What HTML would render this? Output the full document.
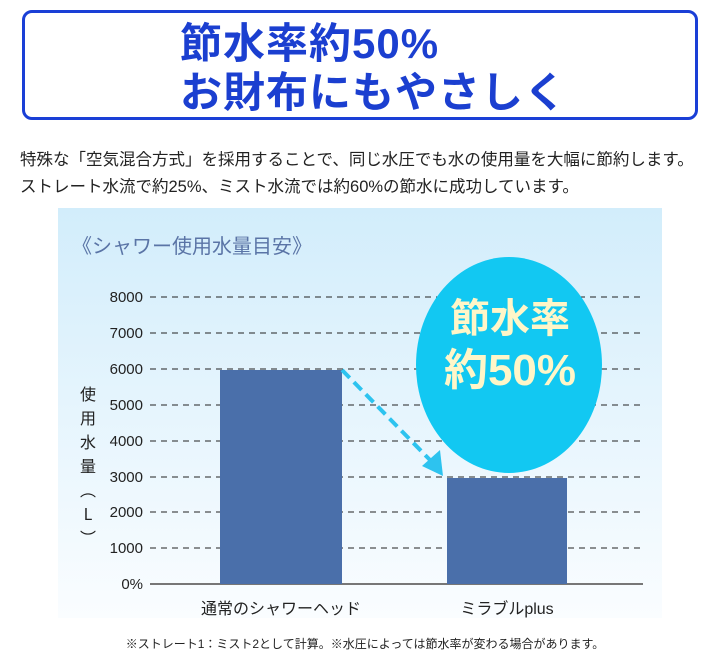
<!DOCTYPE html>
<html><head><meta charset="utf-8"><style>
body{margin:0;width:720px;height:666px;background:#fff;position:relative;overflow:hidden;font-family:"Liberation Sans","Noto Sans CJK JP",sans-serif}
.box{position:absolute;left:22px;top:10px;width:670px;height:104px;border:3px solid #1a3fd6;border-radius:10px}
.h{position:absolute;left:180px;font-size:42px;font-weight:bold;color:#1b3fd0;letter-spacing:1px;line-height:1}
.p{position:absolute;left:20px;font-size:16.5px;color:#222;white-space:nowrap}
.panel{position:absolute;left:58px;top:208px;width:604px;height:410px;background:linear-gradient(#d2edfb,#eef8fe 70%,#fafdff)}
</style></head><body>
<div class="box"></div>
<div class="h" style="top:23px">節水率約50%</div>
<div class="h" style="top:72px">お財布にもやさしく</div>
<div class="p" style="top:146px">特殊な「空気混合方式」を採用することで、同じ水圧でも水の使用量を大幅に節約します。</div>
<div class="p" style="top:173px">ストレート水流で約25%、ミスト水流では約60%の節水に成功しています。</div>
<div class="panel"></div>
<svg style="position:absolute;left:0;top:0" width="720" height="666">
<text x="72" y="253" font-size="20" fill="#5a74a6" font-family="Liberation Sans,Noto Sans CJK JP,sans-serif">《シャワー使用水量目安》</text>
<g stroke="#222" stroke-dasharray="6,5" stroke-width="1">
<line x1="150" x2="640" y1="297" y2="297"/><line x1="150" x2="640" y1="333" y2="333"/>
<line x1="150" x2="640" y1="369" y2="369"/><line x1="150" x2="640" y1="405" y2="405"/>
<line x1="150" x2="640" y1="441" y2="441"/><line x1="150" x2="640" y1="477" y2="477"/>
<line x1="150" x2="640" y1="512" y2="512"/><line x1="150" x2="640" y1="548" y2="548"/>
</g>
<line x1="150" x2="643" y1="584" y2="584" stroke="#777" stroke-width="2"/>
<g font-size="15" fill="#222" text-anchor="end" font-family="Liberation Sans,sans-serif">
<text x="143" y="302">8000</text><text x="143" y="338">7000</text><text x="143" y="374">6000</text>
<text x="143" y="410">5000</text><text x="143" y="446">4000</text><text x="143" y="482">3000</text>
<text x="143" y="517">2000</text><text x="143" y="553">1000</text><text x="143" y="589">0%</text>
</g>
<g font-size="16" fill="#222" text-anchor="middle" font-family="Noto Sans CJK JP,sans-serif">
<text x="88" y="400">使</text><text x="88" y="424">用</text><text x="88" y="448">水</text><text x="88" y="472">量</text>
<text x="88" y="496">︵</text><text x="88" y="520">L</text><text x="88" y="544">︶</text>
</g>
<rect x="220" y="370" width="122" height="214" fill="#4a6faa"/>
<rect x="447" y="478" width="120" height="106" fill="#4a6faa"/>
<line x1="342" y1="370" x2="430" y2="460" stroke="#2dc3ef" stroke-width="4" stroke-dasharray="11,6"/>
<polygon points="443,476 422,466 440,450" fill="#2dc3ef"/>
<ellipse cx="509" cy="365" rx="93" ry="108" fill="#12c8f2"/>
<g font-weight="bold" fill="#fff6c8" text-anchor="middle" font-family="Liberation Sans,Noto Sans CJK JP,sans-serif">
<text x="510" y="332" font-size="40">節水率</text>
<text x="510" y="385" font-size="44">約50%</text>
</g>
<g font-size="16" fill="#222" text-anchor="middle" font-family="Liberation Sans,Noto Sans CJK JP,sans-serif">
<text x="281" y="614">通常のシャワーヘッド</text><text x="507" y="614">ミラブルplus</text>
</g>
<text x="365" y="648" font-size="12" fill="#222" text-anchor="middle" font-family="Liberation Sans,Noto Sans CJK JP,sans-serif">※ストレート1：ミスト2として計算。※水圧によっては節水率が変わる場合があります。</text>
</svg>
</body></html>
